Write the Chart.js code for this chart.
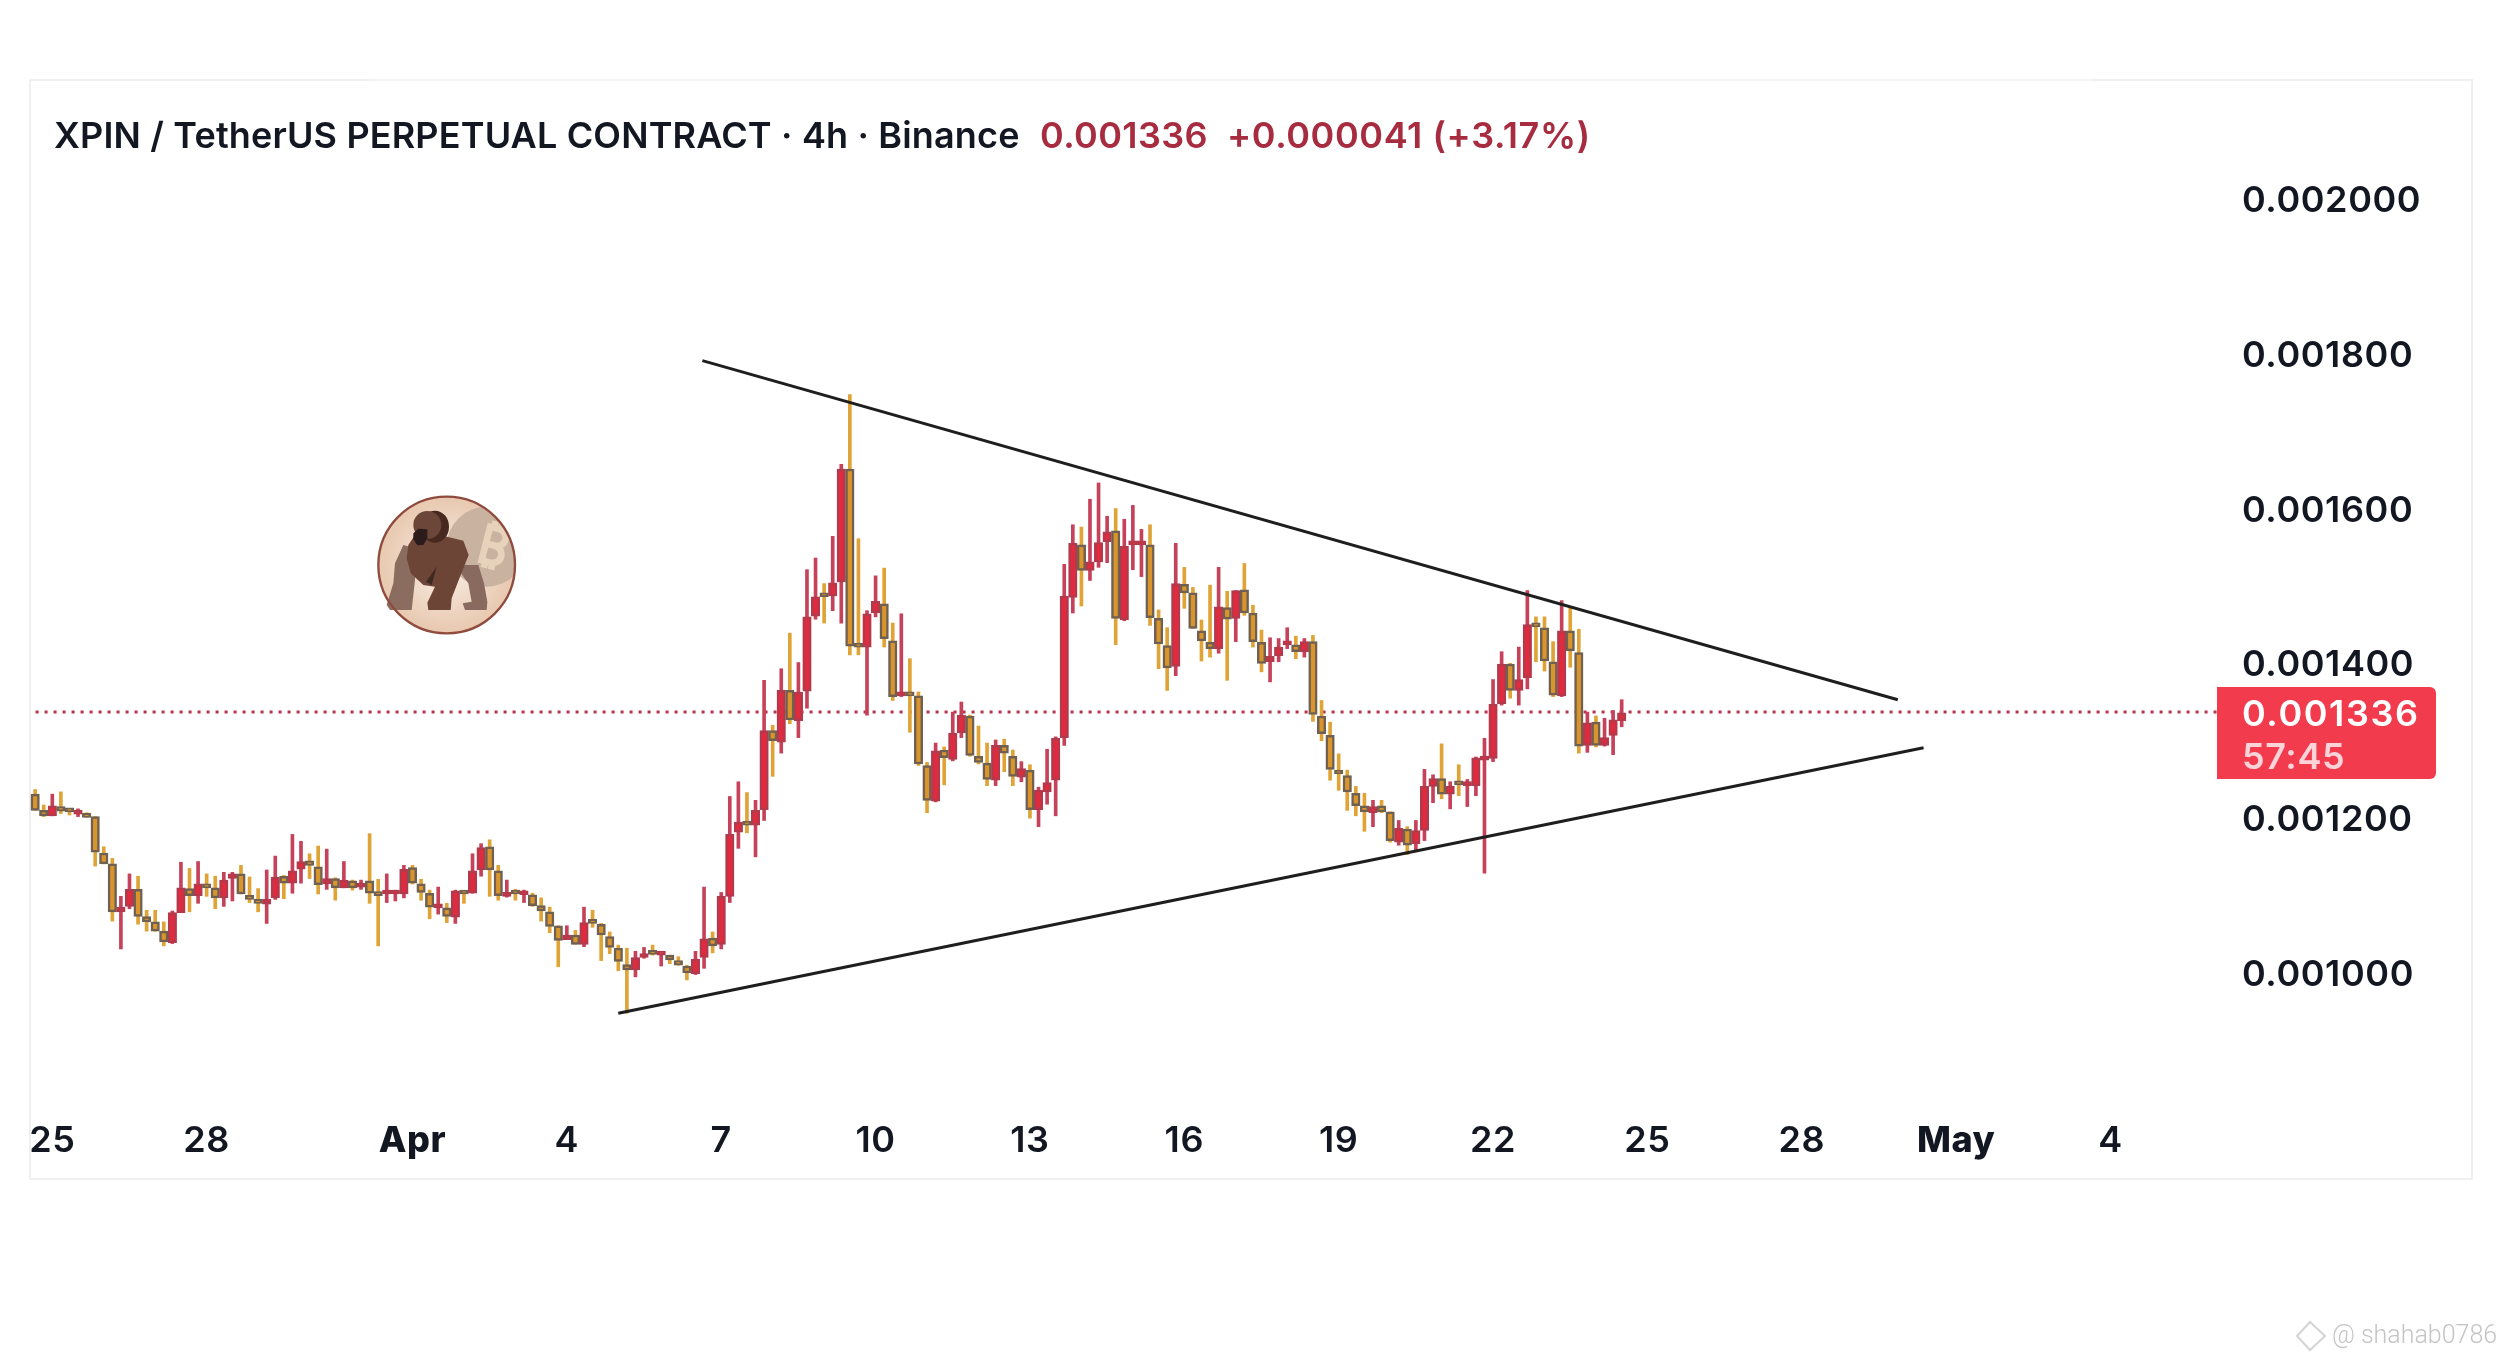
<!DOCTYPE html>
<html>
<head>
<meta charset="utf-8">
<title>XPIN / TetherUS 4h</title>
<script src="https://cdn.jsdelivr.net/npm/chart.js@4"></script>
<style>
    html, body { margin: 0; padding: 0; background: #ffffff; }
    canvas { display: block; }
</style>
</head>
<body>
<canvas id="candleChart" width="2502" height="1359"></canvas>
<script>
// 4h candles, prices in millionths of USDT, first slot is Mar 24 16:00
const opens = [
    1230,1209,1202,1214,1209,1204,1205,1201,1154,1140,
    1078,1085,1107,1072,1065,1053,1038,1077,1108,1099,
    1114,1109,1096,1121,1127,1099,1094,1088,1096,1124,
    1115,1133,1144,1136,1114,1121,1109,1118,1110,1118,
    1102,1101,1101,1101,1135,1114,1102,1083,1083,1071,
    1105,1102,1132,1162,1131,1098,1102,1100,1100,1086,
    1078,1060,1042,1048,1036,1065,1062,1046,1031,1010,
    1003,1019,1025,1022,1022,1015,1008,998,1019,1044,
    1036,1098,1181,1195,1190,1210,1312,1297,1364,1325,
    1363,1460,1487,1486,1504,1650,1422,1420,1464,1476,
    1428,1357,1358,1357,1267,1221,1287,1275,1309,1331,
    1279,1270,1248,1293,1279,1252,1261,1210,1233,1248,
    1303,1484,1552,1519,1530,1556,1570,1455,1552,1552,
    1552,1457,1422,1395,1501,1490,1441,1426,1418,1471,
    1457,1494,1464,1426,1401,1409,1423,1423,1414,1427,
    1331,1306,1261,1254,1231,1215,1206,1215,1207,1168,
    1185,1166,1183,1240,1250,1230,1244,1241,1241,1274,
    1276,1347,1398,1364,1380,1448,1445,1401,1357,1441,
    1413,1293,1323,1293,1306,1325
];
const closes = [
    1209,1202,1215,1208,1207,1206,1200,1155,1140,1078,
    1084,1107,1072,1065,1053,1039,1077,1109,1099,1114,
    1109,1096,1119,1127,1101,1094,1089,1094,1123,1115,
    1131,1143,1138,1113,1121,1109,1119,1109,1115,1102,
    1099,1102,1102,1133,1115,1103,1084,1084,1072,1105,
    1101,1131,1161,1132,1099,1102,1101,1102,1086,1079,
    1059,1041,1048,1036,1064,1063,1048,1032,1014,1003,
    1019,1024,1023,1023,1016,1009,999,1017,1043,1034,
    1098,1178,1194,1190,1209,1312,1299,1364,1326,1362,
    1459,1485,1485,1503,1650,1421,1420,1463,1479,1431,
    1356,1359,1357,1269,1222,1286,1277,1309,1332,1280,
    1271,1249,1293,1283,1253,1263,1210,1235,1245,1302,
    1486,1554,1519,1530,1555,1569,1457,1550,1554,1553,
    1458,1424,1393,1502,1490,1444,1428,1418,1472,1456,
    1493,1464,1427,1399,1408,1420,1425,1414,1427,1333,
    1308,1262,1256,1233,1215,1207,1214,1207,1170,1186,
    1164,1183,1240,1250,1230,1240,1242,1243,1277,1276,
    1346,1398,1364,1378,1449,1446,1402,1358,1441,1415,
    1292,1322,1293,1303,1326,1335
];
const highs = [
    1236,1216,1230,1233,1211,1211,1206,1201,1162,1147,
    1098,1127,1124,1080,1080,1065,1079,1142,1134,1143,
    1127,1124,1129,1129,1138,1123,1108,1132,1150,1125,
    1178,1169,1153,1163,1159,1122,1143,1119,1119,1179,
    1120,1127,1106,1138,1138,1120,1106,1110,1089,1106,
    1105,1153,1166,1171,1138,1119,1107,1106,1102,1096,
    1084,1060,1060,1054,1084,1080,1063,1052,1035,1031,
    1027,1032,1035,1025,1022,1020,1009,1027,1110,1052,
    1103,1227,1246,1232,1222,1377,1319,1392,1438,1400,
    1520,1535,1502,1563,1656,1746,1560,1467,1512,1522,
    1451,1463,1405,1362,1271,1296,1291,1336,1349,1332,
    1318,1296,1300,1301,1287,1272,1268,1239,1288,1304,
    1527,1578,1575,1611,1632,1589,1599,1585,1603,1572,
    1578,1468,1445,1554,1523,1497,1455,1500,1523,1492,
    1493,1528,1474,1442,1432,1431,1445,1434,1431,1435,
    1351,1323,1282,1261,1240,1231,1222,1222,1207,1196,
    1188,1196,1262,1255,1295,1246,1268,1249,1278,1302,
    1378,1414,1399,1420,1493,1459,1459,1427,1480,1470,
    1443,1336,1331,1328,1338,1352
];
const lows = [
    1209,1201,1202,1205,1203,1201,1200,1137,1140,1066,
    1030,1082,1062,1053,1053,1034,1037,1077,1078,1089,
    1098,1082,1085,1092,1101,1090,1078,1063,1094,1095,
    1102,1115,1121,1101,1107,1093,1109,1106,1107,1089,
    1034,1090,1092,1096,1114,1093,1069,1075,1064,1063,
    1089,1102,1124,1098,1093,1097,1093,1090,1085,1066,
    1051,1007,1042,1036,1033,1058,1015,1024,1002,947,
    994,1018,1022,1008,1011,1009,990,997,1005,1025,
    1030,1090,1160,1180,1149,1196,1253,1283,1321,1303,
    1341,1456,1451,1467,1451,1410,1410,1332,1459,1420,
    1351,1356,1310,1267,1206,1220,1242,1273,1303,1279,
    1269,1241,1241,1259,1241,1246,1199,1188,1217,1202,
    1293,1464,1473,1506,1523,1529,1423,1454,1520,1511,
    1448,1392,1364,1383,1470,1444,1402,1407,1412,1377,
    1427,1461,1420,1388,1375,1401,1418,1405,1407,1324,
    1299,1248,1235,1209,1202,1182,1188,1206,1168,1164,
    1152,1158,1170,1219,1224,1211,1228,1214,1228,1128,
    1272,1345,1354,1345,1366,1401,1389,1356,1356,1394,
    1283,1284,1291,1292,1281,1317
];

// time axis, in candle slots
const timeTickSlots = [2, 20, 44, 62, 80, 98, 116, 134, 152, 170, 188, 206, 224, 242];
const timeTickLabels = ['25', '28', 'Apr', '4', '7', '10', '13', '16', '19', '22', '25', '28', 'May', '4'];
const monthLabels = ['Apr', 'May'];
const priceTicks = [1000, 1200, 1400, 1600, 1800, 2000];

// hand drawn trend lines
const upperTrendSlots = [77.8, 217.2];
const upperTrendPrices = [1790, 1352];
const lowerTrendSlots = [68.0, 220.2];
const lowerTrendPrices = [947, 1290];

const lastPrice = 1336;
const countdown = '57:45';
const headerTitle = 'XPIN / TetherUS PERPETUAL CONTRACT · 4h · Binance';
const headerPrice = '0.001336';
const headerChange = '+0.000041 (+3.17%)';
const watermark = '@ shahab0786';

const FONT = 'Inter, "Noto Sans", sans-serif';
const TEXT_COLOR = '#131722';
const UP_FILL = '#e12a3e', UP_EDGE = '#b23a4c', UP_WICK = '#c6425a';
const DOWN_FILL = '#d9952c', DOWN_EDGE = '#6f6052', DOWN_WICK = '#dfa336';

const slots = opens.map((o, i) => i);
const isUp = slots.map(i => closes[i] >= opens[i]);

function formatPrice(v) {
    return (v / 1e6).toFixed(6);
}

function drawLogo(ctx) {
    const shape = (pts, color) => {
        ctx.fillStyle = color;
        ctx.beginPath();
        pts.forEach((p, i) => i ? ctx.lineTo(p[0], p[1]) : ctx.moveTo(p[0], p[1]));
        ctx.closePath();
        ctx.fill();
    };
    ctx.save();
    ctx.translate(340, 470);
    ctx.scale(1 / 3, 1 / 3);

    const bg = ctx.createRadialGradient(320, 285, 40, 320, 285, 205);
    bg.addColorStop(0, '#f6e8dc');
    bg.addColorStop(1, '#e8c8af');
    ctx.save();
    ctx.beginPath();
    ctx.arc(320, 285, 205, 0, Math.PI * 2);
    ctx.fillStyle = bg;
    ctx.fill();
    ctx.clip();
    ctx.fillStyle = '#c9b29f';
    ctx.beginPath();
    ctx.arc(440, 230, 120, 0, Math.PI * 2);
    ctx.fill();

    // coin mark
    ctx.save();
    ctx.translate(455, 225);
    ctx.rotate(0.25);
    ctx.strokeStyle = '#e7d2bb';
    ctx.lineWidth = 20;
    ctx.beginPath();
    ctx.moveTo(-28, -52);
    ctx.lineTo(10, -52);
    ctx.arc(10, -26, 26, -Math.PI / 2, Math.PI / 2);
    ctx.lineTo(-20, 0);
    ctx.moveTo(10, 0);
    ctx.arc(10, 26, 26, -Math.PI / 2, Math.PI / 2);
    ctx.lineTo(-28, 52);
    ctx.moveTo(-18, -52);
    ctx.lineTo(-18, 52);
    ctx.moveTo(-6, -72);
    ctx.lineTo(-6, -50);
    ctx.moveTo(16, -72);
    ctx.lineTo(16, -50);
    ctx.moveTo(-6, 50);
    ctx.lineTo(-6, 72);
    ctx.moveTo(16, 50);
    ctx.lineTo(16, 72);
    ctx.stroke();
    ctx.restore();
    ctx.restore();

    // far limbs
    shape([[190,225],[225,235],[225,330],[215,420],[150,420],[140,405],[160,340],[165,280]], '#8b6d60');
    shape([[345,285],[415,285],[432,340],[442,395],[440,420],[375,420],[368,400],[395,395],[385,340]], '#886a5e');
    // body
    shape([[225,195],[300,195],[370,212],[386,255],[360,320],[335,385],[332,420],[265,420],[262,398],[285,350],[250,345],[212,310],[200,265],[205,225]], '#6c4537');
    shape([[290,290],[275,345],[258,335]], '#3f2a22');
    // head
    ctx.fillStyle = '#47291f';
    ctx.beginPath();
    ctx.ellipse(285, 170, 42, 48, 0, 0, Math.PI * 2);
    ctx.fill();
    ctx.fillStyle = '#6c4638';
    ctx.beginPath();
    ctx.ellipse(262, 165, 42, 42, 0, 0, Math.PI * 2);
    ctx.fill();
    shape([[220,190],[235,176],[262,178],[262,205],[250,225],[232,226],[220,208]], '#2b1c1b');

    ctx.beginPath();
    ctx.arc(320, 285, 205, 0, Math.PI * 2);
    ctx.strokeStyle = '#8f4b3d';
    ctx.lineWidth = 7;
    ctx.stroke();
    ctx.restore();
}

const decorPlugin = {
    id: 'decor',
    beforeDraw(chart) {
        const ctx = chart.ctx;
        ctx.save();
        ctx.fillStyle = '#ffffff';
        ctx.fillRect(0, 0, chart.width, chart.height);
        // panel frame, the top edge fades out in the middle
        ctx.strokeStyle = '#f6f6f6';
        ctx.lineWidth = 2;
        ctx.strokeRect(30, 80, 2442, 1099);
        ctx.strokeStyle = '#f0f0f0';
        ctx.beginPath();
        ctx.moveTo(30, 80);
        ctx.lineTo(30, 1179);
        ctx.lineTo(2472, 1179);
        ctx.lineTo(2472, 80);
        ctx.lineTo(2090, 80);
        ctx.moveTo(30, 80);
        ctx.lineTo(375, 80);
        ctx.stroke();
        ctx.restore();
        // digits in the reference are a touch wider than Inter's default
        ctx.letterSpacing = '0.6px';
    },
    afterDatasetsDraw(chart) {
        const ctx = chart.ctx;
        drawLogo(ctx);

        // header line
        ctx.save();
        ctx.textBaseline = 'middle';
        ctx.textAlign = 'left';
        ctx.font = '600 36px ' + FONT;
        ctx.fillStyle = TEXT_COLOR;
        ctx.letterSpacing = '0.16px';
        ctx.fillText(headerTitle, 54, 137);
        ctx.fillStyle = '#a72c40';
        ctx.letterSpacing = '0.4px';
        ctx.fillText(headerPrice, 1040, 137);
        ctx.letterSpacing = '0.6px';
        ctx.fillText(headerChange, 1227, 137);

        // last price tag
        const py = chart.scales.y.getPixelForValue(lastPrice);
        ctx.fillStyle = '#f23b4c';
        ctx.beginPath();
        ctx.roundRect(2217, py - 25, 219, 92, [0, 6, 6, 0]);
        ctx.fill();
        ctx.fillStyle = '#ffffff';
        ctx.letterSpacing = '1.6px';
        ctx.fillText(formatPrice(lastPrice), 2242, py + 3);
        ctx.fillStyle = '#fbd3d8';
        ctx.letterSpacing = '0.6px';
        ctx.fillText(countdown, 2242, py + 46);

        // watermark
        ctx.letterSpacing = '0px';
        ctx.font = '300 25px Roboto, sans-serif';
        ctx.fillStyle = '#c4c4c4';
        ctx.fillText(watermark, 2332, 1337);
        ctx.strokeStyle = '#d4d4d4';
        ctx.lineWidth = 2;
        ctx.beginPath();
        ctx.moveTo(2310, 1322);
        ctx.lineTo(2325, 1336);
        ctx.lineTo(2310, 1350);
        ctx.lineTo(2297, 1336);
        ctx.closePath();
        ctx.stroke();
        ctx.restore();
    }
};

new Chart(document.getElementById('candleChart'), {
    type: 'bar',
    data: {
        datasets: [
            {
                type: 'line',
                data: [{ x: -1, y: lastPrice }, { x: 256, y: lastPrice }],
                borderColor: '#b5324c',
                borderWidth: 3,
                borderDash: [3, 6],
                pointRadius: 0,
                order: 5
            },
            {
                type: 'line',
                data: upperTrendSlots.map((x, i) => ({ x: x, y: upperTrendPrices[i] })),
                borderColor: '#1e1e1e',
                borderWidth: 3,
                pointRadius: 0,
                order: 0
            },
            {
                type: 'line',
                data: lowerTrendSlots.map((x, i) => ({ x: x, y: lowerTrendPrices[i] })),
                borderColor: '#1e1e1e',
                borderWidth: 3,
                pointRadius: 0,
                order: 0
            },
            {
                // wicks
                data: slots.map(i => ({ x: i, y: [lows[i], highs[i]] })),
                backgroundColor: slots.map(i => isUp[i] ? UP_WICK : DOWN_WICK),
                borderWidth: 0,
                barThickness: 3,
                grouped: false,
                order: 2
            },
            {
                // bodies
                data: slots.map(i => ({ x: i, y: [opens[i], closes[i]] })),
                backgroundColor: slots.map(i => isUp[i] ? UP_FILL : DOWN_FILL),
                borderColor: slots.map(i => isUp[i] ? UP_EDGE : DOWN_EDGE),
                borderWidth: 2.5,
                borderSkipped: false,
                barThickness: 8.5,
                minBarLength: 4,
                grouped: false,
                order: 1
            }
        ]
    },
    options: {
        responsive: false,
        animation: false,
        devicePixelRatio: 1,
        layout: { padding: { left: 30, top: 80, right: 30, bottom: 180 } },
        plugins: { legend: { display: false }, tooltip: { enabled: false } },
        scales: {
            x: {
                type: 'linear',
                min: -0.6,
                max: 255,
                offset: false,
                grid: { display: false },
                border: { display: false },
                afterFit(scale) { scale.height = 69; },
                afterBuildTicks(scale) { scale.ticks = timeTickSlots.map(v => ({ value: v })); },
                ticks: {
                    autoSkip: false,
                    maxRotation: 0,
                    padding: 2,
                    color: TEXT_COLOR,
                    font: ctx => ({
                        family: FONT,
                        size: 36,
                        weight: monthLabels.includes(timeTickLabels[ctx.index]) ? 800 : 600
                    }),
                    callback: (value, index) => timeTickLabels[index]
                }
            },
            y: {
                position: 'right',
                min: 822,
                max: 2152.5,
                grid: { display: false, drawTicks: false },
                border: { display: false },
                afterFit(scale) { scale.width = 250; },
                afterBuildTicks(scale) { scale.ticks = priceTicks.map(v => ({ value: v })); },
                ticks: {
                    padding: 20,
                    labelOffset: 3,
                    color: TEXT_COLOR,
                    font: { family: FONT, size: 36, weight: 600 },
                    callback: value => formatPrice(value)
                }
            }
        }
    },
    plugins: [decorPlugin]
});
</script>
</body>
</html>
